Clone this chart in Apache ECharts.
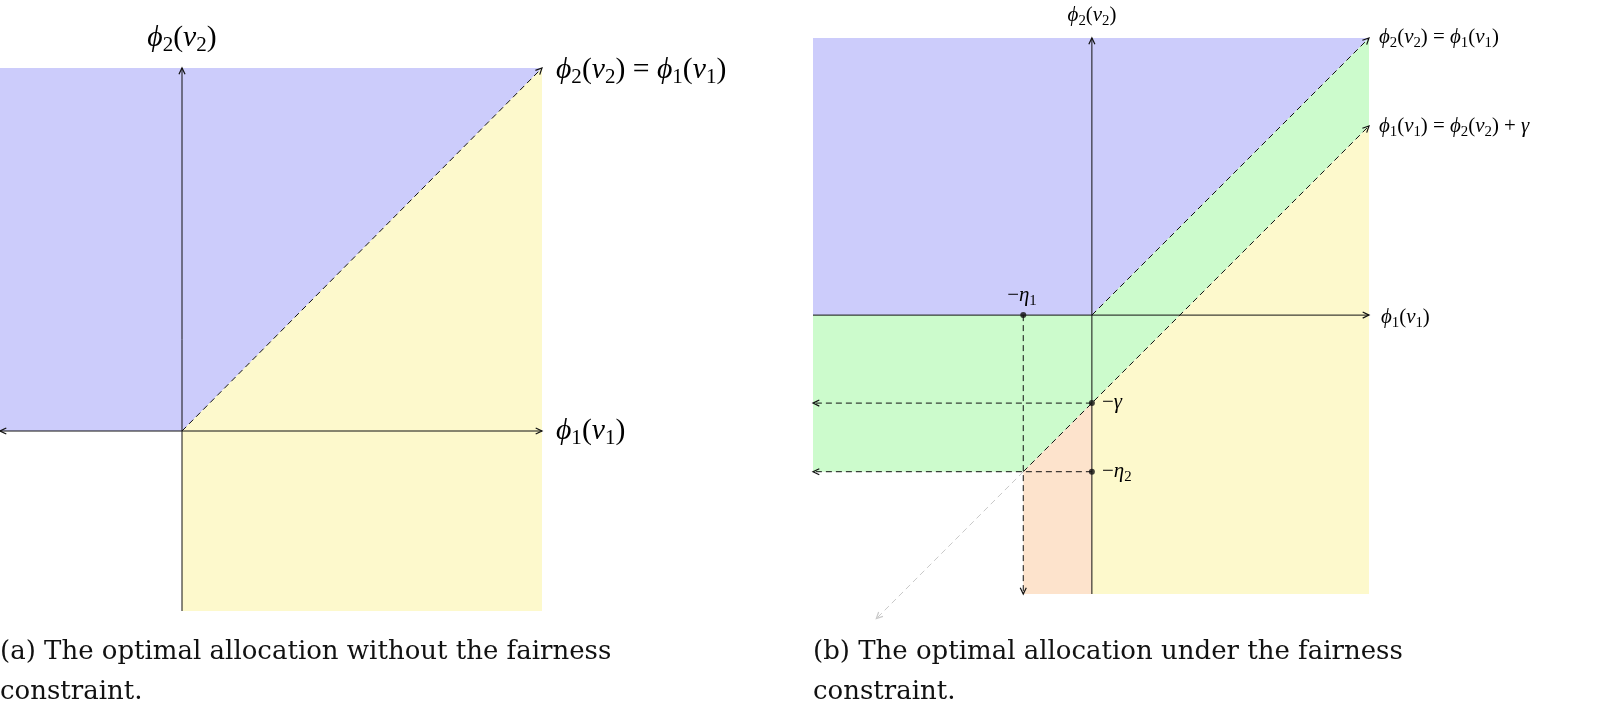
<!DOCTYPE html>
<html><head><meta charset="utf-8">
<script src="https://cdn.jsdelivr.net/npm/echarts@6/dist/echarts.min.js"></script>
<style>html,body{margin:0;padding:0;background:#fff}#c{width:1609px;height:705px}</style>
</head><body><div id="c"></div>
<script>
// ---- data (math units) ----
// left panel
const L_blue = [[-1.82,0],[0,0],[3.60,3.63],[-1.82,3.63]];
const L_yellow = [[0,0],[3.60,3.63],[3.60,-1.80],[0,-1.80]];
// segments: [x1,y1,x2,y2,dashed,arrowStart,arrowEnd,grey]
const L_segs = [
  [0,-1.80,0,3.63,0,0,1,0],
  [-1.82,0,3.60,0,0,1,1,0],
  [0,0,3.60,3.63,1,0,1,0]
];
// right panel
const gamma = 1, eta1 = 0.78, eta2 = 1.78;
const R_blue = [[-3.17,0],[0,0],[3.15,3.15],[-3.17,3.15]];
const R_green = [[-3.17,0],[0,0],[3.15,3.15],[3.15,2.15],[-0.78,-1.78],[-3.17,-1.78]];
const R_yellow = [[0,-3.17],[0,-1],[3.15,2.15],[3.15,-3.17]];
const R_peach = [[-0.78,-3.17],[-0.78,-1.78],[0,-1],[0,-3.17]];
const R_segs = [
  [0,-3.17,0,3.15,0,0,1,0],
  [-3.17,0,3.15,0,0,0,1,0],
  [0,0,3.15,3.15,1,0,1,0],
  [-0.78,-1.78,3.15,2.15,1,0,1,0],
  [-0.78,-1.78,-2.45,-3.45,1,0,1,1],
  [0,-1,-3.17,-1,1,0,1,0],
  [0,-1.78,-3.17,-1.78,1,0,1,0],
  [-0.78,0,-0.78,-3.17,1,0,1,0]
];
const R_points = [[-eta1,0],[0,-gamma],[0,-eta2]];
const colors = {blue:'#ccccfb', yellow:'#fdf9cc', green:'#ccfbcc', peach:'#fde3cc'};

function polySeries(idx, polys){
  return {type:'custom', xAxisIndex:idx, yAxisIndex:idx, clip:false, silent:true, z:1,
    data: polys.map((p,i)=>[i]),
    renderItem:(params, api)=>{
      const p = polys[params.dataIndex];
      return {type:'polygon', shape:{points:p[0].map(v=>api.coord(v))}, style:{fill:p[1], stroke:null}};
    }};
}
function segSeries(idx, segs){
  return {type:'custom', xAxisIndex:idx, yAxisIndex:idx, clip:false, silent:true, z:3,
    data: segs.map((s,i)=>[i]),
    renderItem:(params, api)=>{
      const s = segs[params.dataIndex];
      const a = api.coord([s[0],s[1]]), b = api.coord([s[2],s[3]]);
      const col = s[7] ? '#c8c8c8' : '#111';
      const ch = [{type:'line', shape:{x1:a[0],y1:a[1],x2:b[0],y2:b[1]},
        style:{stroke:col, lineWidth:1, lineDash: s[4]?[6,4]:null}}];
      function head(t, f){
        const ang = Math.atan2(t[1]-f[1], t[0]-f[0]), L=7, w=0.45;
        ch.push({type:'polyline', shape:{points:[
          [t[0]-L*Math.cos(ang-w), t[1]-L*Math.sin(ang-w)], t,
          [t[0]-L*Math.cos(ang+w), t[1]-L*Math.sin(ang+w)]]},
          style:{stroke:col, lineWidth:1.2, fill:null}});
      }
      if (s[6]) head(b,a);
      if (s[5]) head(a,b);
      return {type:'group', children:ch};
    }};
}
function rich(str){
  let out='';
  for (const ch of str){
    if ('ϕvηγ'.includes(ch)) out += '{i|'+ch+'}';
    else if ('12'.includes(ch)) out += '{s|'+ch+'}';
    else if (ch===' ') out += '{n| }';
    else out += '{n|'+ch+'}';
  }
  return out;
}
function mk(size){
  const lh = Math.round(size*1.35);
  return {i:{fontFamily:'Liberation Serif', fontStyle:'italic', fontSize:size*1.1, color:'#111', lineHeight:lh},
          n:{fontFamily:'Liberation Serif', fontSize:size*1.1, color:'#111', lineHeight:lh},
          s:{fontFamily:'Liberation Serif', fontSize:size*0.78, color:'#111', lineHeight:lh, verticalAlign:'bottom'}};
}
function txt(x,y,s,size,align){
  return {type:'text', x:x, y:y, style:{text:rich(s), rich:mk(size), align:align||'left', verticalAlign:'middle'}, z:10};
}
function cap(x,y,s){
  return {type:'text', x:x, y:y, style:{text:s, fontFamily:'DejaVu Serif', fontSize:26, fill:'#111', verticalAlign:'middle'}, z:10};
}

const chart = echarts.init(document.getElementById('c'));
chart.setOption({
  animation:false,
  grid:[{left:0, top:68, width:542, height:543},
        {left:813, top:38, width:556, height:556}],
  xAxis:[{type:'value', min:-1.82, max:3.60, show:false, gridIndex:0},
         {type:'value', min:-3.17, max:3.15, show:false, gridIndex:1}],
  yAxis:[{type:'value', min:-1.80, max:3.63, show:false, gridIndex:0},
         {type:'value', min:-3.17, max:3.15, show:false, gridIndex:1}],
  series:[
    polySeries(0, [[L_blue,colors.blue],[L_yellow,colors.yellow]]),
    segSeries(0, L_segs),
    polySeries(1, [[R_blue,colors.blue],[R_green,colors.green],[R_yellow,colors.yellow],[R_peach,colors.peach]]),
    segSeries(1, R_segs),
    {type:'scatter', xAxisIndex:1, yAxisIndex:1, data:R_points, symbolSize:6, itemStyle:{color:'#111'}, z:5, silent:true}
  ],
  graphic:[
    txt(182,38,'ϕ2(v2)',27,'center'),
    txt(556,70,'ϕ2(v2) = ϕ1(v1)',27),
    txt(556,431,'ϕ1(v1)',27),
    txt(1092,16,'ϕ2(v2)',19,'center'),
    txt(1379,38,'ϕ2(v2) = ϕ1(v1)',19),
    txt(1379,127,'ϕ1(v1) = ϕ2(v2) + γ',19),
    txt(1381,318,'ϕ1(v1)',19),
    txt(1022,296,'−η1',19,'center'),
    txt(1102,403,'−γ',19),
    txt(1102,472,'−η2',19),
    cap(0,652,'(a) The optimal allocation without the fairness'),
    cap(0,692,'constraint.'),
    cap(813,652,'(b) The optimal allocation under the fairness'),
    cap(813,692,'constraint.')
  ]
});
</script></body></html>
